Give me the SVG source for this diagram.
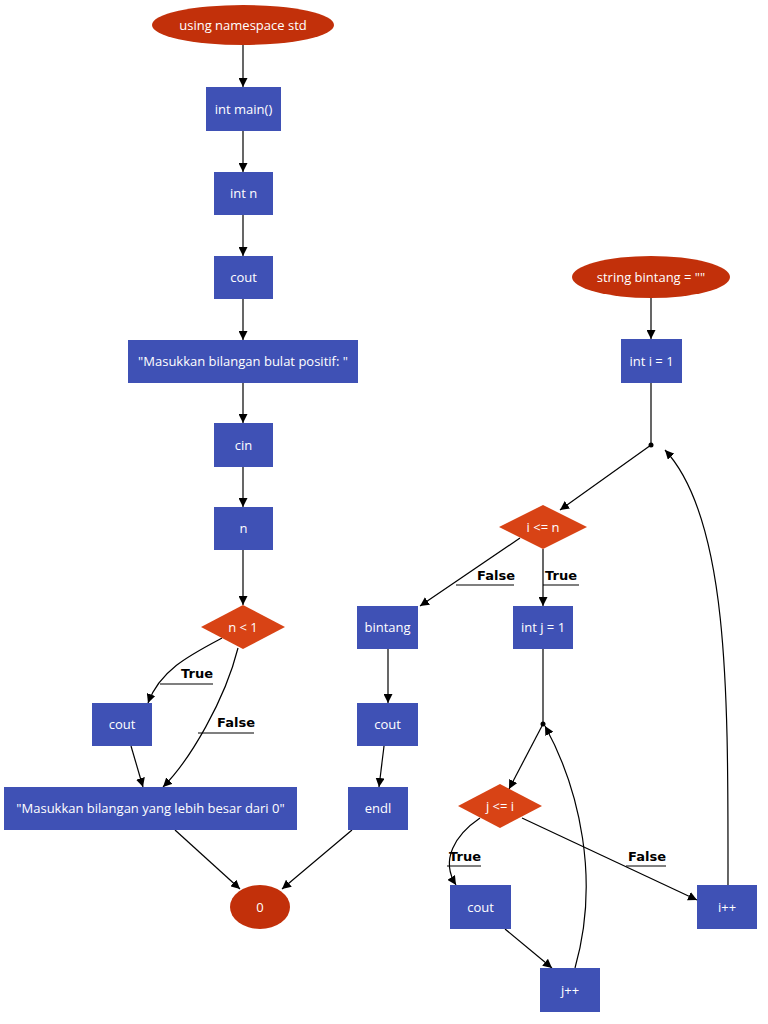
<svg xmlns="http://www.w3.org/2000/svg" width="768" height="1024" viewBox="0 0 768 1024">
<style>
.r{fill:#3f51b5}
.e{fill:#c2300a}
.d{fill:#d84315}
.t{fill:#fff;font-family:"Open Sans","DejaVu Sans",sans-serif;font-size:13px;text-anchor:middle;dominant-baseline:central}
.l{fill:#000;font-family:"DejaVu Sans",sans-serif;font-size:13px;font-weight:bold;text-anchor:middle}
.c{fill:none;stroke:#000;stroke-width:1.2}
.u{stroke:#000;stroke-width:1.2}
</style>
<defs><marker id="a" viewBox="0 0 10 10" refX="10" refY="5" markerWidth="9" markerHeight="9" markerUnits="userSpaceOnUse" orient="auto"><path d="M0,0L10,5L0,10z" fill="#000"/></marker></defs>
<rect width="768" height="1024" fill="#fff"/>
<g id="connectors">
<path class="c" marker-end="url(#a)" d="M243,45V87"/>
<path class="c" marker-end="url(#a)" d="M243,131V172"/>
<path class="c" marker-end="url(#a)" d="M243,215V256"/>
<path class="c" marker-end="url(#a)" d="M243,299V340"/>
<path class="c" marker-end="url(#a)" d="M243,383V423"/>
<path class="c" marker-end="url(#a)" d="M243,467V507"/>
<path class="c" marker-end="url(#a)" d="M243,550V605"/>
<path class="c" marker-end="url(#a)" d="M222,638C190,655 160,670 148,703"/>
<path class="c" marker-end="url(#a)" d="M238,648C225,700 190,760 163,787"/>
<path class="c" marker-end="url(#a)" d="M131,746L143,787"/>
<path class="c" marker-end="url(#a)" d="M175,830L240,889"/>
<path class="c" marker-end="url(#a)" d="M352,830L282,889"/>
<path class="c" marker-end="url(#a)" d="M388,649V703"/>
<path class="c" marker-end="url(#a)" d="M384,746L379,787"/>
<path class="c" marker-end="url(#a)" d="M651,298V339"/>
<path class="c" d="M651,383V445"/>
<path class="c" marker-end="url(#a)" d="M651,445L560,510"/>
<path class="c" marker-end="url(#a)" d="M520,538L420,606"/>
<path class="c" marker-end="url(#a)" d="M543,549V606"/>
<path class="c" d="M543,649V724"/>
<path class="c" marker-end="url(#a)" d="M543,724L509,789"/>
<path class="c" marker-end="url(#a)" d="M480,818C455,835 440,860 456,885"/>
<path class="c" marker-end="url(#a)" d="M522,818L697,900"/>
<path class="c" marker-end="url(#a)" d="M505,929L552,968"/>
<path class="c" marker-end="url(#a)" d="M575,968C600,880 580,790 545,726"/>
<path class="c" marker-end="url(#a)" d="M728,885C728,700 730,520 665,450"/>
<circle cx="651" cy="445" r="2.5"/>
<circle cx="543" cy="724" r="2.5"/>
<text class="l" x="197" y="678">True</text><path class="u" d="M160,684H213"/>
<text class="l" x="236" y="727">False</text><path class="u" d="M198,733H254"/>
<text class="l" x="496" y="580">False</text><path class="u" d="M456,585H514"/>
<text class="l" x="561" y="580">True</text><path class="u" d="M543,585H579"/>
<text class="l" x="465" y="861">True</text><path class="u" d="M447,866H481"/>
<text class="l" x="647" y="861">False</text><path class="u" d="M626,866H666"/>
</g>
<g id="n1"><ellipse class="e" cx="243" cy="25" rx="91" ry="20"/><text class="t" x="243" y="25">using namespace std</text></g>
<g id="n2"><rect class="r" x="206" y="87" width="75" height="44"/><text class="t" x="243.5" y="109">int main()</text></g>
<g id="n3"><rect class="r" x="214" y="172" width="59" height="43"/><text class="t" x="243.5" y="193">int n</text></g>
<g id="n4"><rect class="r" x="214" y="256" width="59" height="43"/><text class="t" x="243.5" y="277">cout</text></g>
<g id="n5"><rect class="r" x="128" y="340" width="230" height="43"/><text class="t" x="243" y="361">"Masukkan bilangan bulat positif: "</text></g>
<g id="n6"><rect class="r" x="214" y="423" width="59" height="44"/><text class="t" x="243.5" y="445">cin</text></g>
<g id="n7"><rect class="r" x="214" y="507" width="59" height="43"/><text class="t" x="243.5" y="528">n</text></g>
<g id="n8"><path class="d" d="M243,605L285,627L243,649L201,627z"/><text class="t" x="243" y="627">n &lt; 1</text></g>
<g id="n9"><rect class="r" x="92" y="703" width="60" height="43"/><text class="t" x="122" y="724">cout</text></g>
<g id="n10"><rect class="r" x="4" y="787" width="293" height="43"/><text class="t" x="150.5" y="808">"Masukkan bilangan yang lebih besar dari 0"</text></g>
<g id="n11"><ellipse class="e" cx="260" cy="907" rx="30" ry="22"/><text class="t" x="260" y="907">0</text></g>
<g id="n12"><rect class="r" x="357" y="606" width="61" height="43"/><text class="t" x="387.5" y="627">bintang</text></g>
<g id="n13"><rect class="r" x="357" y="703" width="61" height="43"/><text class="t" x="387.5" y="724">cout</text></g>
<g id="n14"><rect class="r" x="348" y="787" width="60" height="43"/><text class="t" x="378" y="808">endl</text></g>
<g id="n15"><ellipse class="e" cx="651" cy="277" rx="79" ry="21"/><text class="t" x="651" y="277">string bintang = ""</text></g>
<g id="n16"><rect class="r" x="621" y="339" width="61" height="44"/><text class="t" x="651.5" y="361">int i = 1</text></g>
<g id="n17"><path class="d" d="M543,505L587,527L543,549L499,527z"/><text class="t" x="543" y="527">i &lt;= n</text></g>
<g id="n18"><rect class="r" x="513" y="606" width="60" height="43"/><text class="t" x="543" y="627">int j = 1</text></g>
<g id="n19"><path class="d" d="M500,784L542,806L500,828L458,806z"/><text class="t" x="500" y="806">j &lt;= i</text></g>
<g id="n20"><rect class="r" x="450" y="885" width="61" height="44"/><text class="t" x="480.5" y="907">cout</text></g>
<g id="n21"><rect class="r" x="540" y="968" width="60" height="44"/><text class="t" x="570" y="990">j++</text></g>
<g id="n22"><rect class="r" x="697" y="885" width="60" height="44"/><text class="t" x="727" y="907">i++</text></g>
</svg>
